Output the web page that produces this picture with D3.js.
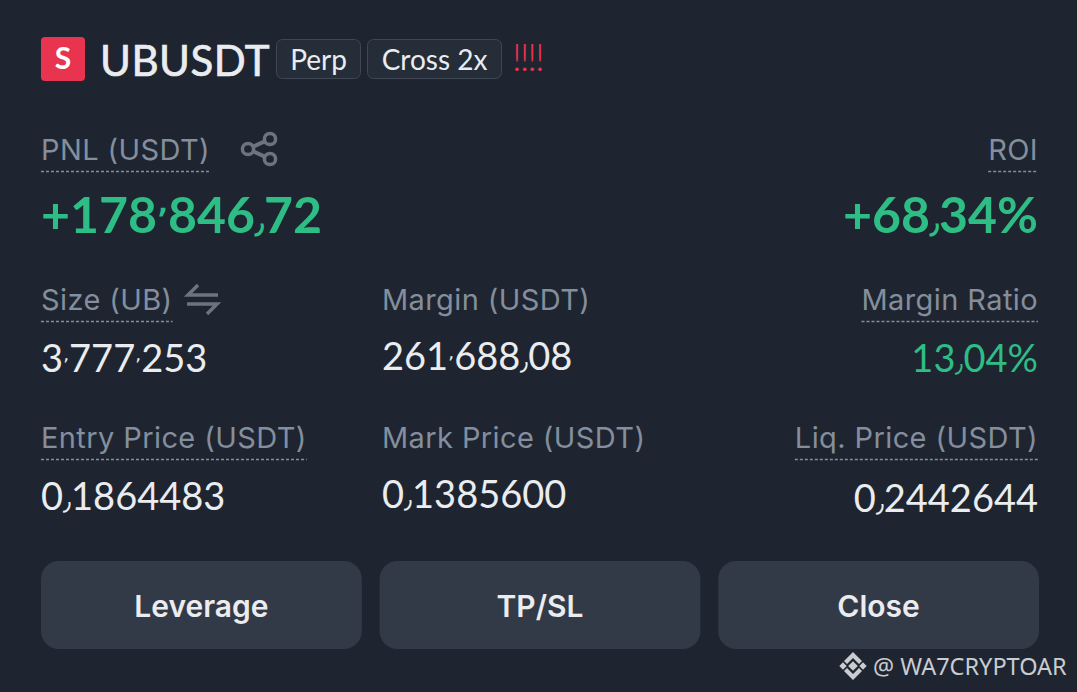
<!DOCTYPE html>
<html>
<head>
<meta charset="utf-8">
<script src="https://cdn.jsdelivr.net/npm/d3@7/dist/d3.min.js"></script>
<style>
  html, body { margin: 0; padding: 0; background: #1e2530; overflow: hidden; }
  text { font-family: Lato, "Noto Sans", sans-serif; }
</style>
</head>
<body>
<svg id="card" width="1077" height="692"></svg>
<script>
const symbol = "UBUSDT";
const tags = ["Perp", "Cross 2x"];
const headLabels = ["PNL (USDT)", "ROI"];
const headValues = ["+178٬846٫72", "+68٫34%"];
const row1Labels = ["Size (UB)", "Margin (USDT)", "Margin Ratio"];
const row1Values = ["3٬777٬253", "261٬688٫08", "13٫04%"];
const row2Labels = ["Entry Price (USDT)", "Mark Price (USDT)", "Liq. Price (USDT)"];
const row2Values = ["0٫1864483", "0٫1385600", "0٫2442644"];
const buttons = ["Leverage", "TP/SL", "Close"];

const BG = "#1e2530", GREEN = "#2ebd85", RED = "#e8344f", GREY = "#848e9c", WHITE = "#eaecef", ICON = "#6c7480";
const svg = d3.select("#card");

const label = (txt, x, y, anchor, underline) => {
  const t = svg.append("text").attr("x", x).attr("y", y)
    .attr("text-anchor", anchor)
    .attr("font-size", 29).attr("letter-spacing", 0.4).attr("fill", GREY)
    .style("font-family", "Inter").text(txt);
  if (underline) {
    const w = t.node().getComputedTextLength();
    const x0 = anchor === "end" ? x - w : x;
    svg.append("line").attr("x1", x0).attr("x2", x0 + w)
      .attr("y1", y + 11.5).attr("y2", y + 11.5)
      .attr("stroke", GREY).attr("stroke-width", 1.5).attr("stroke-dasharray", "3 2");
  }
  return t;
};

// the arabic separators fall back to a wide glyph, so they go in smaller tspans
const value = (txt, x, y, anchor, size, color, weight) => {
  const t = svg.append("text").attr("x", x).attr("y", y)
    .attr("text-anchor", anchor)
    .attr("font-size", size).attr("font-weight", weight || 400)
    .attr("fill", color);
  txt.split(/([٬٫])/).forEach(part => {
    const sp = t.append("tspan").text(part);
    if (part === "٬") sp.attr("font-size", size * (weight ? 0.68 : 0.5));
    if (part === "٫") sp.attr("font-size", size * (weight ? 0.55 : 0.66));
  });
  return t;
};

// header
svg.append("rect").attr("x", 41).attr("y", 37).attr("width", 44).attr("height", 44)
  .attr("rx", 4).attr("fill", RED);
value("S", 63, 69, "middle", 30, "#fff", 700);
value(symbol, 100, 76, "start", 42, WHITE, 400)
  .attr("letter-spacing", 0.5).attr("stroke", WHITE).attr("stroke-width", 0.7);

const tagX = [276, 367], tagW = [85, 135];
const tagG = svg.selectAll("g.tag").data(tags).enter().append("g").attr("class", "tag");
tagG.append("rect")
  .attr("x", (d, i) => tagX[i] + .5).attr("y", 39.5)
  .attr("width", (d, i) => tagW[i] - 1).attr("height", 39).attr("rx", 6)
  .attr("fill", "#252d39").attr("stroke", "#3f4754").attr("stroke-width", 1);
tagG.append("text")
  .attr("x", (d, i) => tagX[i] + tagW[i] / 2).attr("y", 70)
  .attr("text-anchor", "middle").attr("font-size", 28).attr("fill", WHITE).text(d => d);
value("!!!!", 512, 71, "start", 38, RED, 300).attr("letter-spacing", -2);

// pnl + roi
label(headLabels[0], 41, 160, "start", true);
label(headLabels[1], 1038, 160, "end", true);
value(headValues[0], 41, 233, "start", 50, GREEN, 700);
value(headValues[1], 1038, 233, "end", 50, GREEN, 700);

// share icon
const shareNodes = [[270, 139], [248, 149], [270, 159]];
svg.append("path")
  .attr("d", d3.line()(shareNodes))
  .attr("fill", "none").attr("stroke", ICON).attr("stroke-width", 4);
svg.selectAll("circle.share").data(shareNodes).enter().append("circle")
  .attr("class", "share")
  .attr("cx", d => d[0]).attr("cy", d => d[1]).attr("r", 5.6)
  .attr("fill", BG).attr("stroke", ICON).attr("stroke-width", 3.5);

// stats rows
const colX = [41, 382, 1038], colAnchor = ["start", "start", "end"];
const row1Y = [372, 370, 372], row2Y = [510, 508, 512];
row1Labels.forEach((d, i) => label(d, colX[i], 310, colAnchor[i], i !== 1));
row2Labels.forEach((d, i) => label(d, colX[i], 448, colAnchor[i], i !== 1));
row1Values.forEach((d, i) => value(d, colX[i], row1Y[i], colAnchor[i], 38, i === 2 ? GREEN : WHITE));
row2Values.forEach((d, i) => value(d, colX[i], row2Y[i], colAnchor[i], 38, WHITE));

// swap arrows next to Size
svg.append("path")
  .attr("d", "M218 295H188L198 285M187 304H217L207 314")
  .attr("fill", "none").attr("stroke", ICON).attr("stroke-width", 3.5);

// buttons
const btnX = d3.scaleBand().domain(buttons).range([41, 1039]).paddingInner(0.0525);
const btn = svg.selectAll("g.btn").data(buttons).enter().append("g").attr("class", "btn");
btn.append("rect")
  .attr("x", d => btnX(d)).attr("y", 561)
  .attr("width", btnX.bandwidth()).attr("height", 88).attr("rx", 18)
  .attr("fill", "#333a47");
btn.append("text")
  .attr("x", d => btnX(d) + btnX.bandwidth() / 2).attr("y", 617)
  .attr("text-anchor", "middle").attr("font-size", 30).attr("font-weight", 600)
  .style("font-family", "Inter").attr("fill", WHITE).text(d => d);

// watermark
const MARK = "#c9ccd1";
const wm = svg.append("g").attr("fill", MARK);
[[853, 666, 3.4], [843, 666, 2.6], [863, 666, 2.6]].forEach(d => {
  wm.append("rect").attr("x", d[0] - d[2]).attr("y", d[1] - d[2])
    .attr("width", d[2] * 2).attr("height", d[2] * 2)
    .attr("transform", `rotate(45 ${d[0]} ${d[1]})`);
});
wm.append("path").attr("d", "M853 652L862 661L859 664L853 658L847 664L844 661Z");
wm.append("path").attr("d", "M853 680L862 671L859 668L853 674L847 668L844 671Z");
svg.append("text").attr("x", 873).attr("y", 675).attr("font-size", 23.5)
  .attr("fill", MARK).style("font-family", '"Noto Sans", sans-serif').text("@ WA7CRYPTOAR");
</script>
</body>
</html>
